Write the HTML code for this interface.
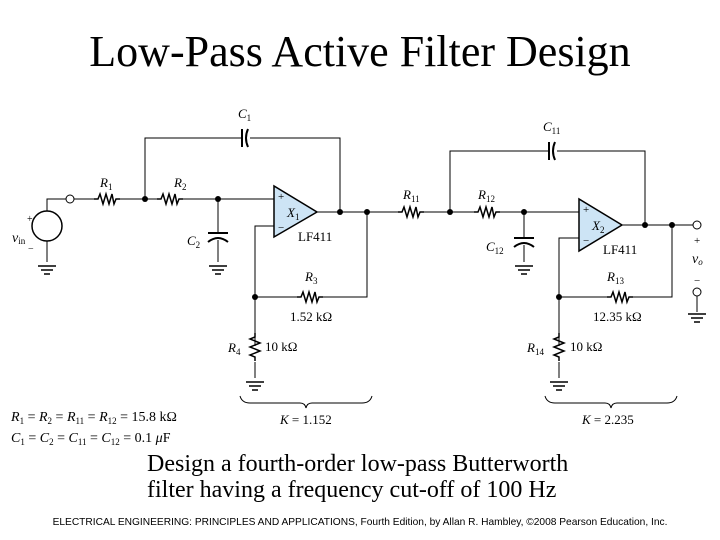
<!DOCTYPE html>
<html><head><style>
body{margin:0;width:720px;height:540px;background:#fff;overflow:hidden;position:relative;font-family:"Liberation Serif",serif}
.t{position:absolute;left:0;width:720px;text-align:center;font-size:44px;top:26px;color:#000}
.d{position:absolute;left:147px;top:451px;font-size:24px;line-height:26px;white-space:nowrap}
.f{position:absolute;left:0;width:720px;text-align:center;top:517px;font-family:"Liberation Sans",sans-serif;font-size:10.2px}
</style></head><body>
<div class="t">Low-Pass Active Filter Design</div>
<svg width="720" height="540" style="position:absolute;left:0;top:0" font-family="Liberation Serif" font-size="11">
<defs>
<g id="rh"><polyline points="-13,0 -9,0 -7,-5 -4,5 -1,-5 2,5 5,-5 7,5 9,0 13,0" fill="none" stroke="#000" stroke-width="1.5"/></g>
<g id="rv"><polyline points="0,-14 0,-10 -5,-8 5,-4 -5,0 5,4 -5,8 0,10 0,14" fill="none" stroke="#000" stroke-width="1.5"/></g>
<g id="gnd" stroke="#000" stroke-width="1.5"><line x1="-9" y1="0" x2="9" y2="0"/><line x1="-6" y1="4" x2="6" y2="4"/><line x1="-3" y1="8" x2="3" y2="8"/></g>
</defs>
<g stroke="#000" stroke-width="1" fill="none">
<path d="M47,211 V199 H66 M74,199 H94 M120,199 H157 M183,199 H274 M218,199 V233 M218,240 V262 M145,199 V138 H242 M250,138 H340 V212 M317,212 H398 M274,226 H255 V346 M255,297 H297 M323,297 H367 V212 M47,241 V262 M255,362 V378"/>
<line x1="242" y1="129" x2="242" y2="147" stroke-width="2"/>
<path d="M248,129 Q244,138 248,147" stroke-width="2"/>
<line x1="208" y1="233" x2="228" y2="233" stroke-width="2"/>
<path d="M208,242 Q218,234 228,242" stroke-width="2"/>
<path d="M424,212 H474 M500,212 H579 M524,212 V238 M524,245 V262 M450,212 V151 H549 M557,151 H645 V225 M622,225 H693 M579,238 H559 V346 M559,297 H607 M633,297 H672 V225 M697,296 V312 M559,362 V378"/>
<line x1="549" y1="142" x2="549" y2="160" stroke-width="2"/>
<path d="M555,142 Q551,151 555,160" stroke-width="2"/>
<line x1="514" y1="238" x2="534" y2="238" stroke-width="2"/>
<path d="M514,247 Q524,239 534,247" stroke-width="2"/>
<path d="M240,396 Q242,403 250,403 H300 Q305,403 306,408 Q307,403 312,403 H362 Q370,403 372,396"/>
<path d="M545,396 Q547,403 555,403 H605 Q610,403 611,408 Q612,403 617,403 H667 Q675,403 677,396"/>
</g>
<circle cx="70" cy="199" r="4" fill="#fff" stroke="#000"/>
<circle cx="697" cy="225" r="4" fill="#fff" stroke="#000"/>
<circle cx="697" cy="292" r="4" fill="#fff" stroke="#000"/>
<circle cx="47" cy="226" r="15" fill="#fff" stroke="#000" stroke-width="1.5"/>
<use href="#rh" x="107" y="199"/><use href="#rh" x="170" y="199"/><use href="#rh" x="310" y="297"/><use href="#rv" x="255" y="347"/>
<use href="#rh" x="411" y="212"/><use href="#rh" x="487" y="212"/><use href="#rh" x="620" y="297"/><use href="#rv" x="559" y="347"/>
<use href="#gnd" x="47" y="266"/><use href="#gnd" x="218" y="266"/><use href="#gnd" x="255" y="382"/>
<use href="#gnd" x="524" y="266"/><use href="#gnd" x="559" y="382"/><use href="#gnd" x="697" y="314"/>
<polygon points="274,186 274,237 317,212" fill="#cde4f5" stroke="#000" stroke-width="1.5"/>
<polygon points="579,199 579,251 622,225" fill="#cde4f5" stroke="#000" stroke-width="1.5"/>
<g fill="#000">
<circle cx="145" cy="199" r="3"/><circle cx="218" cy="199" r="3"/><circle cx="340" cy="212" r="3"/><circle cx="367" cy="212" r="3"/><circle cx="255" cy="297" r="3"/>
<circle cx="450" cy="212" r="3"/><circle cx="524" cy="212" r="3"/><circle cx="645" cy="225" r="3"/><circle cx="672" cy="225" r="3"/><circle cx="559" cy="297" r="3"/>
</g>
<g font-size="13">
<text x="238" y="118" font-style="italic">C<tspan font-size="9" dy="3" font-style="normal">1</tspan></text>
<text x="100" y="187" font-style="italic">R<tspan font-size="9" dy="3" font-style="normal">1</tspan></text>
<text x="174" y="187" font-style="italic">R<tspan font-size="9" dy="3" font-style="normal">2</tspan></text>
<text x="187" y="245" font-style="italic">C<tspan font-size="9" dy="3" font-style="normal">2</tspan></text>
<text x="278" y="200" font-size="11">+</text><text x="278" y="231" font-size="11">−</text>
<text x="287" y="217" font-style="italic">X<tspan font-size="9" dy="3" font-style="normal">1</tspan></text>
<text x="298" y="241">LF411</text>
<text x="305" y="281" font-style="italic">R<tspan font-size="9" dy="3" font-style="normal">3</tspan></text>
<text x="290" y="321">1.52 kΩ</text>
<text x="228" y="352" font-style="italic">R<tspan font-size="9" dy="3" font-style="normal">4</tspan></text>
<text x="265" y="351">10 kΩ</text>
<text x="27" y="222" font-size="10">+</text><text x="28" y="252" font-size="10">−</text>
<text x="12" y="242" font-style="italic" font-size="14">v<tspan font-size="9" dy="2" font-style="normal">in</tspan></text>
<text x="280" y="424"><tspan font-style="italic">K</tspan> = 1.152</text>
<text x="543" y="131" font-style="italic">C<tspan font-size="9" dy="3" font-style="normal">11</tspan></text>
<text x="403" y="199" font-style="italic">R<tspan font-size="9" dy="3" font-style="normal">11</tspan></text>
<text x="478" y="199" font-style="italic">R<tspan font-size="9" dy="3" font-style="normal">12</tspan></text>
<text x="486" y="251" font-style="italic">C<tspan font-size="9" dy="3" font-style="normal">12</tspan></text>
<text x="583" y="213" font-size="11">+</text><text x="583" y="244" font-size="11">−</text>
<text x="592" y="230" font-style="italic">X<tspan font-size="9" dy="3" font-style="normal">2</tspan></text>
<text x="603" y="254">LF411</text>
<text x="607" y="281" font-style="italic">R<tspan font-size="9" dy="3" font-style="normal">13</tspan></text>
<text x="593" y="321">12.35 kΩ</text>
<text x="527" y="352" font-style="italic">R<tspan font-size="9" dy="3" font-style="normal">14</tspan></text>
<text x="570" y="351">10 kΩ</text>
<text x="694" y="244" font-size="11">+</text>
<text x="692" y="263" font-style="italic" font-size="14">v<tspan font-size="9" dy="2">o</tspan></text>
<text x="694" y="284" font-size="11">−</text>
<text x="582" y="424"><tspan font-style="italic">K</tspan> = 2.235</text>
<text x="11" y="421" font-size="14"><tspan font-style="italic">R</tspan><tspan font-size="9" dy="3">1</tspan><tspan dy="-3"> = </tspan><tspan font-style="italic">R</tspan><tspan font-size="9" dy="3">2</tspan><tspan dy="-3"> = </tspan><tspan font-style="italic">R</tspan><tspan font-size="9" dy="3">11</tspan><tspan dy="-3"> = </tspan><tspan font-style="italic">R</tspan><tspan font-size="9" dy="3">12</tspan><tspan dy="-3"> = 15.8 kΩ</tspan></text>
<text x="11" y="442" font-size="14"><tspan font-style="italic">C</tspan><tspan font-size="9" dy="3">1</tspan><tspan dy="-3"> = </tspan><tspan font-style="italic">C</tspan><tspan font-size="9" dy="3">2</tspan><tspan dy="-3"> = </tspan><tspan font-style="italic">C</tspan><tspan font-size="9" dy="3">11</tspan><tspan dy="-3"> = </tspan><tspan font-style="italic">C</tspan><tspan font-size="9" dy="3">12</tspan><tspan dy="-3"> =  0.1 </tspan><tspan font-style="italic">μ</tspan>F</text>
</g>
</svg>
<div class="d">Design a fourth-order low-pass Butterworth<br>filter having a frequency cut-off of 100 Hz</div>
<div class="f">ELECTRICAL ENGINEERING: PRINCIPLES AND APPLICATIONS, Fourth Edition, by Allan R. Hambley, ©2008 Pearson Education, Inc.</div>
</body></html>
